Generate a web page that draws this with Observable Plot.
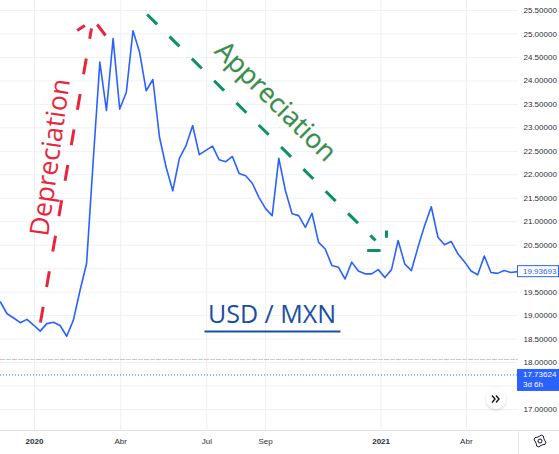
<!DOCTYPE html>
<html><head><meta charset="utf-8">
<script src="https://cdn.jsdelivr.net/npm/d3@7"></script>
<script src="https://cdn.jsdelivr.net/npm/@observablehq/plot@0.6"></script>
<style>
html,body{margin:0;padding:0;background:#fff;}
#chart svg{display:block;}
</style></head><body><div id="chart"></div>
<script>
// ---- series (weekly USD/MXN closes) ----
const dates = [
"2019-11-26","2019-12-03","2019-12-10","2019-12-17","2019-12-24","2019-12-31",
"2020-01-07","2020-01-14","2020-01-21","2020-01-28","2020-02-04","2020-02-11","2020-02-18","2020-02-25",
"2020-03-03","2020-03-10","2020-03-17","2020-03-24","2020-03-31","2020-04-07","2020-04-14","2020-04-21","2020-04-28",
"2020-05-05","2020-05-12","2020-05-19","2020-05-26","2020-06-02","2020-06-09","2020-06-16","2020-06-23","2020-06-30",
"2020-07-07","2020-07-14","2020-07-21","2020-07-28","2020-08-04","2020-08-11","2020-08-18","2020-08-25",
"2020-09-01","2020-09-08","2020-09-15","2020-09-22","2020-09-29","2020-10-06","2020-10-13","2020-10-20","2020-10-27",
"2020-11-03","2020-11-10","2020-11-17","2020-11-24","2020-12-01","2020-12-08","2020-12-15","2020-12-22","2020-12-29",
"2021-01-05","2021-01-12","2021-01-19","2021-01-26","2021-02-02","2021-02-09","2021-02-16","2021-02-23",
"2021-03-02","2021-03-09","2021-03-16","2021-03-23","2021-03-30","2021-04-06","2021-04-13","2021-04-20","2021-04-27",
"2021-05-04","2021-05-11","2021-05-18","2021-05-25"];
const rates = [
19.29,19.04,18.95,18.85,18.92,18.80,
18.67,18.83,18.86,18.79,18.56,18.90,19.53,20.11,
22.30,24.40,23.37,24.90,23.40,23.76,25.07,24.61,23.79,
24.03,22.80,22.16,21.66,22.35,22.62,23.05,22.43,22.52,
22.61,22.32,22.28,22.39,22.03,21.98,21.82,21.52,
21.28,21.13,22.35,21.66,21.17,21.13,20.88,21.18,20.56,
20.42,20.07,20.03,19.78,20.14,19.95,19.89,19.89,19.98,
19.81,19.98,20.60,20.10,19.96,20.46,20.92,21.32,
20.67,20.51,20.58,20.32,20.15,19.95,19.87,20.27,19.92,
19.90,19.96,19.92,19.937];

// ---- axes ----
const tickDates  = ["2020-01-01","2020-04-01","2020-07-01","2020-09-01","2021-01-01","2021-04-01"];
const tickLabels = ["2020","Abr","Jul","Sep","2021","Abr"];
const yearTicks  = ["2020-01-01","2021-01-01"];
const priceTicks = [17,17.5,18,18.5,19,19.5,20,20.5,21,21.5,22,22.5,23,23.5,24,24.5,25,25.5];
const coveredPriceTicks = [17.5, 20]; // hidden behind the price badges
const xDomain = ["2019-11-26T02:24Z","2021-05-26T02:24Z"];
const yDomain = [16.553, 25.713];

// ---- price labels / lines ----
const lastPrice = 19.93693;
const lastPriceLabel = "19.93693";
const bidPrice = 17.73624;
const bidLabel = "17.73624";
const bidTimer = "3d 6h";
const alertPrice = 18.065;

// ---- annotations ----
const seriesTitle = "USD / MXN";
const titlePos = ["2020-09-07T19:00Z", 19.024];
const underlineX = ["2020-06-28T12:00Z","2020-11-19T02:00Z"];
const underlineY = 18.662;

const depText = "Depreciation";
const depPos = ["2020-01-17T22:00Z", 22.369];
const redShaftX = ["2020-01-07T07:00Z","2020-03-01T04:30Z"];
const redShaftY = [18.853, 25.117];
const redLeftX = ["2020-02-15T02:00Z","2020-02-23T02:30Z"];
const redLeftY = [25.074, 25.181];
const redRightX = ["2020-03-07T05:00Z","2020-03-16T00:00Z"];
const redRightY = [25.202, 24.968];

const appText = "Appreciation";
const appPos = ["2020-09-11T12:00Z", 23.561];
const greenShaftX = ["2020-04-29T00:00Z","2020-12-26T02:00Z"];
const greenShaftY = [25.415, 20.600];
const greenHX = ["2020-12-17T07:00Z","2020-12-31T10:00Z"];
const greenHY = [20.387, 20.387];
const greenVX = ["2021-01-06T17:00Z","2021-01-06T17:00Z"];
const greenVY = [20.813, 20.658];

const RED = "#e8253a", GREEN = "#0f8f68", GREEN_TXT = "#2f8f58", BLUE = "#2962ff", NAVY = "#1a4ea5";

const data = dates.map((d, i) => ({date: new Date(d), rate: rates[i]}));
const seg = (xs, ys) => [{x1: new Date(xs[0]), y1: ys[0], x2: new Date(xs[1]), y2: ys[1]}];
const labelByTime = new Map(tickDates.map((d, i) => [new Date(d).getTime(), tickLabels[i]]));
const monthTicks = tickDates.filter(d => !yearTicks.includes(d)).map(d => new Date(d));
const yrTicks = yearTicks.map(d => new Date(d));
const axisPriceTicks = priceTicks.filter(v => !coveredPriceTicks.includes(v));
const lk = {x1: "x1", y1: "y1", x2: "x2", y2: "y2"};

const plot = Plot.plot({
  width: 559, height: 454,
  marginLeft: 0, marginRight: 41, marginTop: 0, marginBottom: 24,
  x: {type: "utc", domain: xDomain.map(d => new Date(d)), axis: null},
  y: {domain: yDomain, axis: null},
  style: {fontFamily: "Liberation Sans, Arial, sans-serif", background: "#fff", overflow: "visible"},
  marks: [
    Plot.gridX(tickDates.map(d => new Date(d)), {stroke: "#eceff3", strokeOpacity: 1}),
    Plot.gridY(priceTicks, {stroke: "#eff1f5", strokeOpacity: 1}),
    Plot.ruleY([alertPrice], {stroke: "#f6b3b7", strokeDasharray: "5,7", strokeWidth: 1}),
    Plot.ruleY([alertPrice], {stroke: "#a9ddd6", strokeDasharray: "5,7", strokeDashoffset: 6, strokeWidth: 1}),
    Plot.ruleY([bidPrice], {stroke: BLUE, strokeDasharray: "1,2", strokeWidth: 1}),
    Plot.axisY(axisPriceTicks, {anchor: "right", tickSize: 0, tickPadding: 5, tickFormat: d3.format(".5f"), fontSize: 8, fill: "#2a2e39"}),
    Plot.axisX(monthTicks, {anchor: "bottom", tickSize: 0, tickPadding: 8, fontSize: 8, fill: "#2a2e39", tickFormat: d => labelByTime.get(d.getTime())}),
    Plot.axisX(yrTicks, {anchor: "bottom", tickSize: 0, tickPadding: 8, fontSize: 8, fontWeight: "bold", fill: "#2a2e39", tickFormat: d => labelByTime.get(d.getTime())}),
    Plot.line(data, {x: "date", y: "rate", stroke: BLUE, strokeWidth: 1.6, clip: true}),
    // depreciation arrow
    Plot.link(seg(redShaftX, redShaftY), {...lk, stroke: RED, strokeWidth: 3, strokeDasharray: "16,20"}),
    Plot.link(seg(redLeftX, redLeftY), {...lk, stroke: RED, strokeWidth: 3}),
    Plot.link(seg(redRightX, redRightY), {...lk, stroke: RED, strokeWidth: 3}),
    Plot.text([depText], {x: () => new Date(depPos[0]), y: () => depPos[1], text: d => d, rotate: -82,
      fontSize: 26.5, fontFamily: "Open Sans", fill: RED, textAnchor: "middle", lineAnchor: "middle"}),
    // appreciation arrow
    Plot.link(seg(greenShaftX, greenShaftY), {...lk, stroke: GREEN, strokeWidth: 3, strokeDasharray: "14,17.4"}),
    Plot.link(seg(greenHX, greenHY), {...lk, stroke: GREEN, strokeWidth: 3}),
    Plot.link(seg(greenVX, greenVY), {...lk, stroke: GREEN, strokeWidth: 3}),
    Plot.text([appText], {x: () => new Date(appPos[0]), y: () => appPos[1], text: d => d, rotate: 44.7,
      fontSize: 26.5, fontFamily: "Open Sans", fill: GREEN_TXT, stroke: "#c9b04a", strokeWidth: 0.4,
      paintOrder: "stroke", textAnchor: "middle", lineAnchor: "middle"}),
    // title
    Plot.text([seriesTitle], {x: () => new Date(titlePos[0]), y: () => titlePos[1], text: d => d,
      fontSize: 25, fontFamily: "Open Sans", fill: NAVY, textAnchor: "middle", lineAnchor: "middle"}),
    Plot.link(seg(underlineX, [underlineY, underlineY]), {...lk, stroke: NAVY, strokeWidth: 2})
  ]
});

document.getElementById("chart").appendChild(plot);

// ---- chart chrome (price scale badges, separators, buttons) ----
const svg = d3.select(plot);
const ys = plot.scale("y");
const W = 559, H = 454, plotRight = 518, plotBottom = 430;
const FONT = "Liberation Sans, Arial, sans-serif";

svg.append("line").attr("x1", 0).attr("x2", W).attr("y1", plotBottom + 0.5).attr("y2", plotBottom + 0.5)
  .attr("stroke", "#e0e3eb");
svg.append("line").attr("x1", plotRight + 0.5).attr("x2", plotRight + 0.5).attr("y1", plotBottom).attr("y2", H)
  .attr("stroke", "#e0e3eb");

// last price badge
const yl = ys.apply(lastPrice);
svg.append("rect").attr("x", plotRight - 0.5).attr("y", yl - 5.5).attr("width", W - plotRight).attr("height", 11)
  .attr("fill", "#fff").attr("stroke", BLUE).attr("stroke-width", 1);
svg.append("text").attr("x", 523).attr("y", yl + 3).attr("fill", BLUE).attr("text-anchor", "start")
  .attr("font-family", FONT).attr("font-size", 8).text(lastPriceLabel);

// bid badge
const yb = ys.apply(bidPrice);
svg.append("rect").attr("x", plotRight - 1).attr("y", yb - 5.5).attr("width", W - plotRight + 1).attr("height", 22)
  .attr("fill", BLUE);
svg.append("text").attr("x", 523).attr("y", yb + 2.8).attr("fill", "#fff").attr("text-anchor", "start")
  .attr("font-family", FONT).attr("font-size", 8).text(bidLabel);
svg.append("text").attr("x", 523).attr("y", yb + 12.5).attr("fill", "#fff").attr("text-anchor", "start")
  .attr("font-family", FONT).attr("font-size", 8).text(bidTimer);

// scroll button
const defs = svg.append("defs");
const f = defs.append("filter").attr("id", "sh").attr("x", "-50%").attr("y", "-50%").attr("width", "200%").attr("height", "200%");
f.append("feDropShadow").attr("dx", 0).attr("dy", 1).attr("stdDeviation", 1.5).attr("flood-color", "#000").attr("flood-opacity", 0.18);
const bx = 496, by = ys.apply(17) - 10;
svg.append("circle").attr("cx", bx).attr("cy", by).attr("r", 10).attr("fill", "#fff").attr("filter", "url(#sh)");
svg.append("path").attr("d", `M${bx-4},${by-3.5}l3,3.5l-3,3.5M${bx},${by-3.5}l3,3.5l-3,3.5`)
  .attr("fill", "none").attr("stroke", "#131722").attr("stroke-width", 1.4);

// gear icon
const gx = 540, gy = 441;
const pts = [];
for (let i = 0; i < 16; i++) {
  const a = (i / 16) * Math.PI * 2;
  const r = (Math.floor(i / 2) % 2 === 0) ? 6 : 4.6;
  pts.push([gx + r * Math.cos(a + Math.PI / 16), gy + r * Math.sin(a + Math.PI / 16)]);
}
svg.append("path").attr("d", "M" + pts.map(p => p.join(",")).join("L") + "Z")
  .attr("fill", "none").attr("stroke", "#131722").attr("stroke-width", 1);
svg.append("circle").attr("cx", gx).attr("cy", gy).attr("r", 2).attr("fill", "none").attr("stroke", "#131722").attr("stroke-width", 1);
</script>
</body></html>
